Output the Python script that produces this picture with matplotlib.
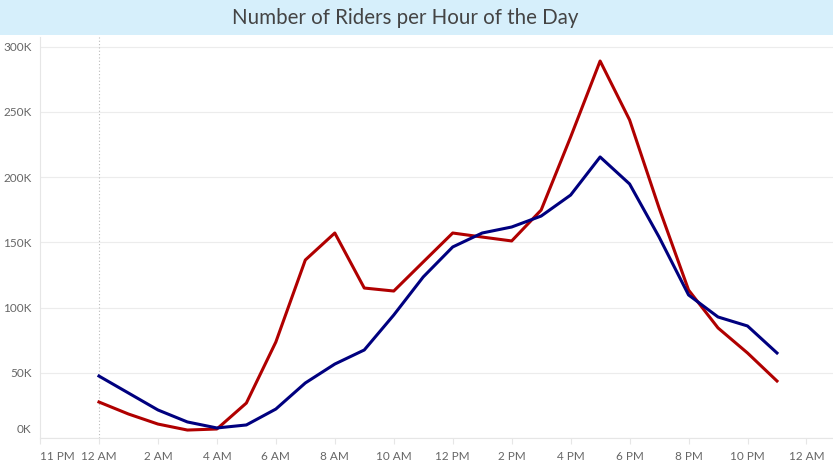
import matplotlib
matplotlib.use("Agg")
import matplotlib.pyplot as plt
import matplotlib.transforms as mtransforms
import numpy as np

# hours of the day (0 = 12 AM)
hours = list(range(24))

# riders per hour, thousands
red_riders = [27.6, 18.4, 10.7, 6.1, 6.9, 26.8, 73.6, 136.5, 157.2, 115.0,
              112.7, 135.0, 157.2, 154.1, 151.1, 174.8, 230.8, 289.1, 243.9,
              176.4, 113.5, 84.4, 65.2, 43.7]
blue_riders = [47.5, 34.5, 21.5, 12.3, 7.7, 10.0, 22.2, 42.2, 56.7, 67.5,
               94.3, 123.5, 146.5, 157.2, 161.8, 170.2, 186.3, 215.5, 194.8,
               154.1, 109.7, 92.8, 85.9, 65.2]

x_ticks = list(range(-2, 25, 2))
x_labels = ["11 PM", "12 AM", "2 AM", "4 AM", "6 AM", "8 AM", "10 AM",
            "12 PM", "2 PM", "4 PM", "6 PM", "8 PM", "10 PM", "12 AM"]
y_ticks = [0, 50, 100, 150, 200, 250, 300]
y_labels = ["0K", "50K", "100K", "150K", "200K", "250K", "300K"]

plt.rcParams["font.family"] = ["Lato", "DejaVu Sans"]

fig = plt.figure(figsize=(8.33, 4.65), dpi=100)

# title band
fig.patches.append(plt.Rectangle((0, 1 - 35 / 465), 1, 35 / 465,
                                 transform=fig.transFigure,
                                 facecolor="#d6effb", edgecolor="none"))
fig.text(405 / 833, 1 - 18 / 465, "Number of Riders per Hour of the Day",
         ha="center", va="center", fontsize=14.8, color="#444444")

ax = fig.add_axes([40 / 833, 1 - 438 / 465, 1 - 40 / 833, (438 - 37) / 465])

ax.plot(hours, red_riders, color="#b00000", linewidth=2.2, zorder=3)
ax.plot(hours, blue_riders, color="#00007f", linewidth=2.2, zorder=3)

ax.axvline(0, color="#bbbbbb", linestyle=(0, (1, 2)), linewidth=0.8, zorder=1)

ax.set_xlim(-2, 24.9)
ax.set_ylim(0, 307.5)

ax.set_xticks(x_ticks)
ax.set_xticklabels(x_labels)
ax.set_yticks(y_ticks)
ax.set_yticklabels(y_labels)

ax.grid(axis="y", color="#ececec", linewidth=0.8)
ax.set_axisbelow(True)

for side in ["top", "right"]:
    ax.spines[side].set_visible(False)
ax.spines["left"].set_color("#e6e6e6")
ax.spines["bottom"].set_color("#e6e6e6")

ax.tick_params(axis="x", length=4, color="#e6e6e6", pad=5,
               labelsize=8.5, labelcolor="#666666")
ax.tick_params(axis="y", length=0, pad=6, labelsize=8.5, labelcolor="#666666")

# first x label sits to the right of its tick
ax.get_xticklabels()[0].set_ha("left")

# 0K label is nudged up like the original
lab = ax.get_yticklabels()[0]
lab.set_transform(lab.get_transform() +
                  mtransforms.ScaledTranslation(0, 6.5 / 72, fig.dpi_scale_trans))

fig.savefig("out.png", dpi=100)
